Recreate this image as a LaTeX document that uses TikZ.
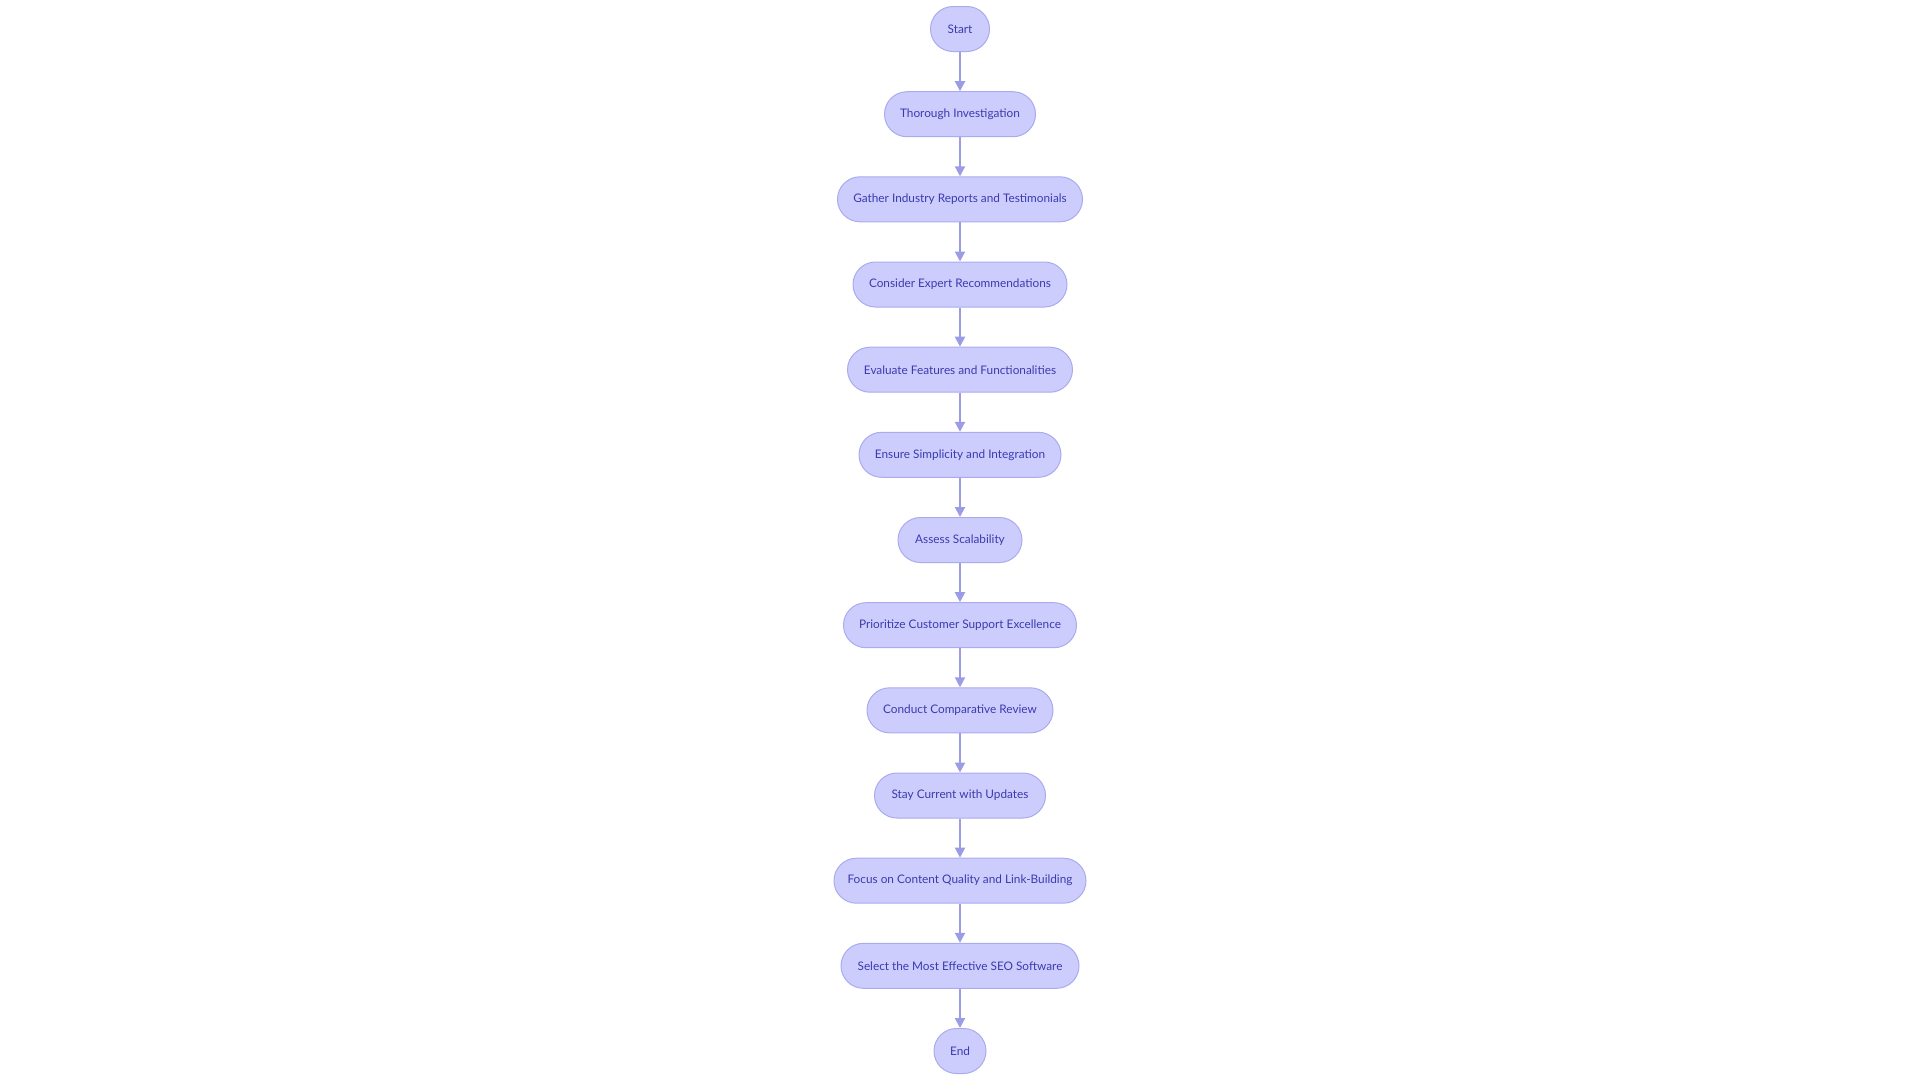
\documentclass[tikz,border=0pt]{standalone}
\usepackage{fontspec}
\setmainfont{Lato}
\usepackage{tikz}
\usetikzlibrary{arrows.meta}
\usepackage{xcolor}
\definecolor{lavenderfill}{RGB}{205,205,253}
\definecolor{lavenderline}{RGB}{170,170,238}
\definecolor{inkblue}{RGB}{58,58,176}
\definecolor{arrowblue}{RGB}{156,156,230}

\begin{document}
\begin{tikzpicture}[x=1pt,y=-1pt]
			\tikzstyle{stage} = [rectangle,rounded corners=22.5pt,fill=lavenderfill,draw=lavenderline,line width=1pt,minimum height=45pt,inner xsep=0pt,text=inkblue,font=\fontsize{11.8}{14}\selectfont]
			\tikzstyle{edge} = [-{Triangle[length=10pt,width=10pt]},draw=arrowblue,fill=arrowblue,line width=2pt]
			\useasboundingbox (0,0) rectangle (1920,1080);
			\node[stage,minimum width=59pt] (n1) at (960,29) {Start};
			\node[stage,minimum width=151pt] (n2) at (960,114.2) {Thorough Investigation};
			\node[stage,minimum width=245pt] (n3) at (960,199.3) {Gather Industry Reports and Testimonials};
			\node[stage,minimum width=214pt] (n4) at (960,284.5) {Consider Expert Recommendations};
			\node[stage,minimum width=225pt] (n5) at (960,369.7) {Evaluate Features and Functionalities};
			\node[stage,minimum width=202pt] (n6) at (960,454.8) {Ensure Simplicity and Integration};
			\node[stage,minimum width=124pt] (n7) at (960,540) {Assess Scalability};
			\node[stage,minimum width=233pt] (n8) at (960,625.2) {Prioritize Customer Support Excellence};
			\node[stage,minimum width=186pt] (n9) at (960,710.3) {Conduct Comparative Review};
			\node[stage,minimum width=171pt] (n10) at (960,795.5) {Stay Current with Updates};
			\node[stage,minimum width=252pt] (n11) at (960,880.7) {Focus on Content Quality and Link-Building};
			\node[stage,minimum width=238pt] (n12) at (960,965.8) {Select the Most Effective SEO Software};
			\node[stage,minimum width=52pt] (n13) at (960,1051) {End};
			\draw[edge] (n1)--(n2);
			\draw[edge] (n2)--(n3);
			\draw[edge] (n3)--(n4);
			\draw[edge] (n4)--(n5);
			\draw[edge] (n5)--(n6);
			\draw[edge] (n6)--(n7);
			\draw[edge] (n7)--(n8);
			\draw[edge] (n8)--(n9);
			\draw[edge] (n9)--(n10);
			\draw[edge] (n10)--(n11);
			\draw[edge] (n11)--(n12);
			\draw[edge] (n12)--(n13);
\end{tikzpicture}
\end{document}
